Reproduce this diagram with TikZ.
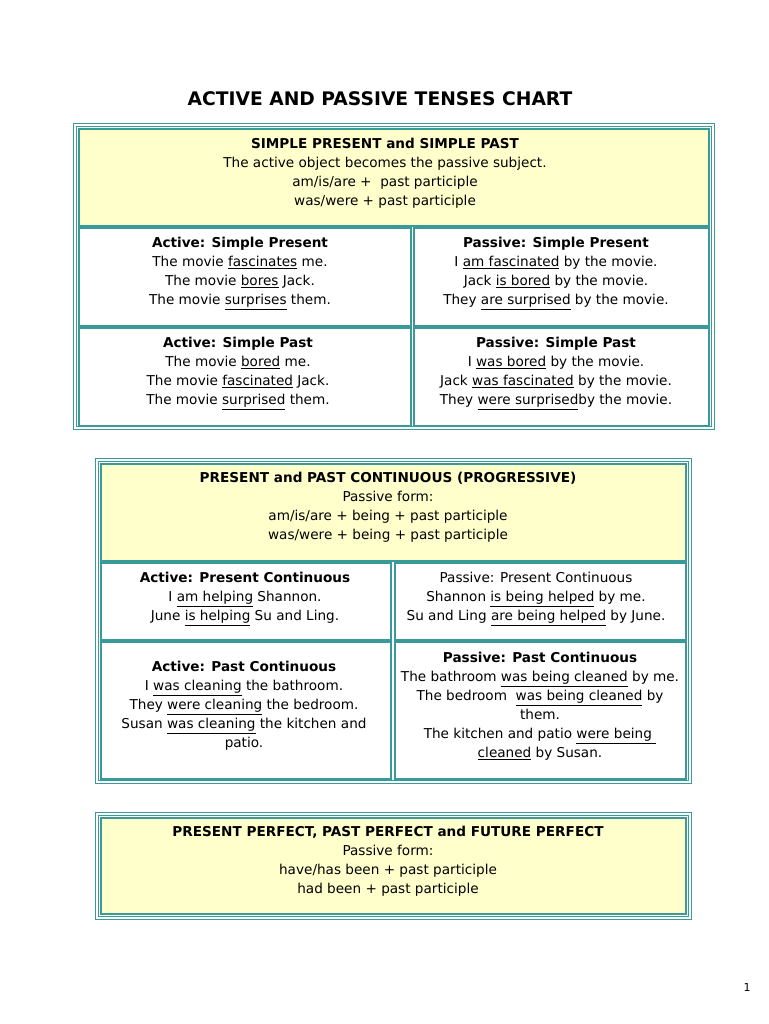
\documentclass[tikz,border=0pt]{standalone}
\usepackage{fontspec}
\setmainfont{DejaVu Sans}
\definecolor{teal1}{HTML}{3A9A9A}
\definecolor{yel}{HTML}{FFFFCC}
\newcommand{\ul}[1]{\underline{#1}}
\begin{document}
\begin{tikzpicture}[x=1pt,y=-1pt,
  outerbox/.style={draw=teal1,line width=1.2pt,double=white,double distance=1.2pt},
  cellbox/.style={draw=teal1,line width=1.3pt},
  hdr/.style={cellbox,fill=yel},
  txt/.style={anchor=north,inner sep=0pt,align=center,font=\fontsize{13.6}{19}\selectfont}]
\useasboundingbox (0,0) rectangle (768,1024);
\node[anchor=base,inner sep=0pt,font=\fontsize{18.7}{20}\selectfont\bfseries] (title) at (380,106) {ACTIVE AND PASSIVE TENSES CHART};
% table 1
\draw[outerbox] (75,125) rectangle (713,428);
\draw[hdr] (79,129) rectangle (709,226);
\draw[cellbox] (79,228) rectangle (411,326);
\draw[cellbox] (414,228) rectangle (709,326);
\draw[cellbox] (79,328) rectangle (411,426);
\draw[cellbox] (414,328) rectangle (709,426);
\node[txt] (h1) at (385,138) {\textbf{SIMPLE PRESENT and SIMPLE PAST}\\The active object becomes the passive subject.\\am/is/are +\ \ past participle\\ was/were + past participle};
\node[txt] (a1) at (240,237) {\textbf{Active: Simple Present}\\The movie \ul{fascinates} me.\\The movie \ul{bores} Jack.\\The movie \ul{surprises} them.};
\node[txt] (p1) at (556,237) {\textbf{Passive: Simple Present}\\I \ul{am fascinated} by the movie.\\Jack \ul{is bored} by the movie.\\They \ul{are surprised} by the movie.};
\node[txt] (a2) at (238,337) {\textbf{Active: Simple Past}\\The movie \ul{bored} me.\\The movie \ul{fascinated} Jack.\\The movie \ul{surprised} them.};
\node[txt] (p2) at (556,337) {\textbf{Passive: Simple Past}\\I \ul{was bored} by the movie.\\Jack \ul{was fascinated} by the movie.\\They \ul{were surprised}by the movie.};
% table 2
\draw[outerbox] (97,460) rectangle (690,782);
\draw[hdr] (101,464) rectangle (686,561);
\draw[cellbox] (101,563) rectangle (391,640);
\draw[cellbox] (395,563) rectangle (686,640);
\draw[cellbox] (101,642) rectangle (391,779);
\draw[cellbox] (395,642) rectangle (686,779);
\node[txt] (h2) at (388,472) {\textbf{PRESENT and PAST CONTINUOUS (PROGRESSIVE)}\\Passive form:\\am/is/are + being + past participle\\was/were + being + past participle};
\node[txt] (a3) at (245,572) {\textbf{Active: Present Continuous}\\I \ul{am helping} Shannon.\\June \ul{is helping} Su and Ling.};
\node[txt] (p3) at (536,572) {Passive: Present Continuous\\Shannon \ul{is being helped} by me.\\Su and Ling \ul{are being helped} by June.};
\node[txt] (a4) at (244,661) {\textbf{Active: Past Continuous}\\I \ul{was cleaning} the bathroom.\\They \ul{were cleaning} the bedroom.\\Susan \ul{was cleaning} the kitchen and\\patio.};
\node[txt] (p4) at (540,652) {\textbf{Passive: Past Continuous}\\The bathroom \ul{was being cleaned} by me.\\The bedroom\ \ \ul{was being cleaned} by\\them.\\The kitchen and patio \ul{were being\ }\\\ul{cleaned} by Susan.};
% table 3
\draw[outerbox] (97,814) rectangle (690,918);
\draw[hdr] (101,818) rectangle (686,914);
\node[txt] (h3) at (388,826) {\textbf{PRESENT PERFECT, PAST PERFECT and FUTURE PERFECT}\\Passive form:\\have/has been + past participle\\had been + past participle};
\node[anchor=base,inner sep=0pt,font=\fontsize{11}{13}\selectfont] (pg) at (747,991) {1};
\end{tikzpicture}
\end{document}
